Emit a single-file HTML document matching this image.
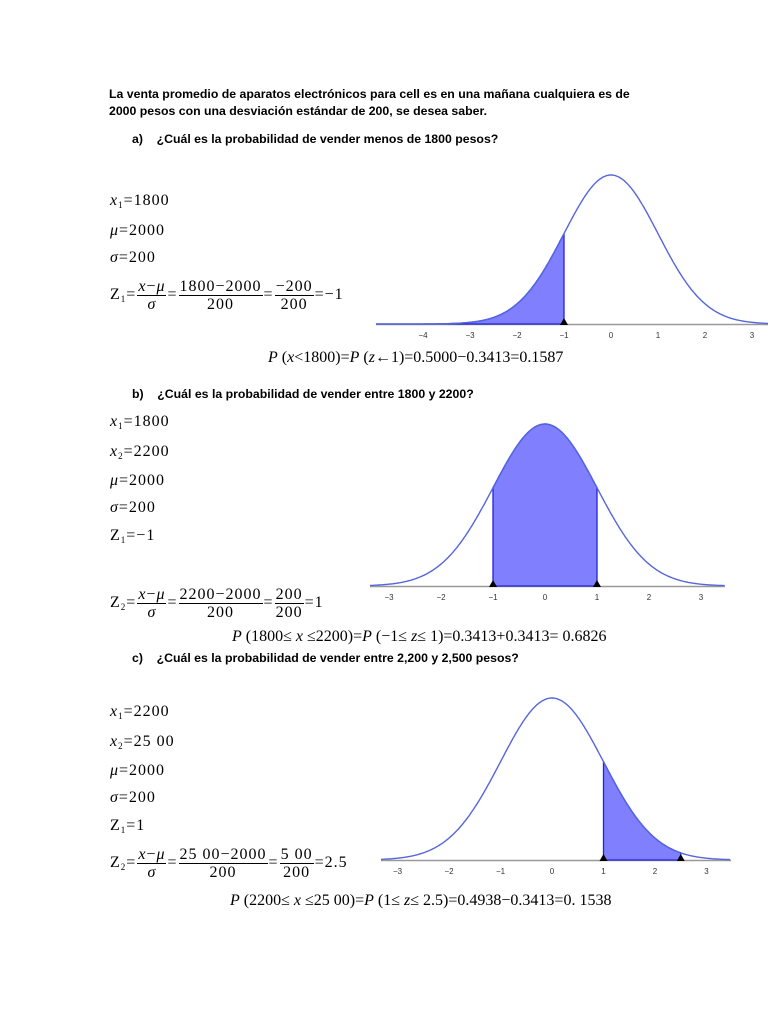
<!DOCTYPE html>
<html><head><meta charset="utf-8">
<style>
body{margin:0;width:768px;height:1024px;background:#fff;position:relative;overflow:hidden;font-family:"Liberation Serif",serif;color:#000}
.h{position:absolute;font-family:"Liberation Sans",sans-serif;font-weight:bold;font-size:12.3px;white-space:nowrap}
.m{position:absolute;font-size:16px;white-space:nowrap;line-height:16px;letter-spacing:1px}
.r{letter-spacing:0}
.m i{font-style:italic}
.f{display:inline-block;vertical-align:middle;text-align:center;line-height:17px;margin:0 1px}
.f span{display:block;padding:0 1px}
.f span+span{border-top:1px solid #000}
sub{font-size:9px;vertical-align:-3px}
#g{position:absolute;left:0;top:0}
</style></head><body>
<div class="h" style="left:109px;top:87px">La venta promedio de aparatos electrónicos para cell es en una mañana cualquiera es de</div>
<div class="h" style="left:109px;top:104px">2000 pesos con una desviación estándar de 200, se desea saber.</div>
<div class="h" style="left:132px;top:132px">a)&nbsp;&nbsp;&nbsp;&nbsp;¿Cuál es la probabilidad de vender menos de 1800 pesos?</div>
<div class="h" style="left:132px;top:387px">b)&nbsp;&nbsp;&nbsp;&nbsp;¿Cuál es la probabilidad de vender entre 1800 y 2200?</div>
<div class="h" style="left:132px;top:651px">c)&nbsp;&nbsp;&nbsp;&nbsp;¿Cuál es la probabilidad de vender entre 2,200 y 2,500 pesos?</div>

<div class="m" style="left:110px;top:193px"><i>x</i><sub>1</sub>=1800</div>
<div class="m" style="left:110px;top:223px"><i>μ</i>=2000</div>
<div class="m" style="left:110px;top:250px"><i>σ</i>=200</div>
<div class="m" style="left:110px;top:278px">Z<sub>1</sub>=<span class="f"><span><i>x</i>−<i>μ</i></span><span><i>σ</i></span></span>=<span class="f"><span>1800−2000</span><span>200</span></span>=<span class="f"><span>−200</span><span>200</span></span>=−1</div>
<div class="m r" style="left:268px;top:350px"><i>P</i> (<i>x</i>&lt;1800)=<i>P</i> (<i>z</i>←1)=0.5000−0.3413=0.1587</div>

<div class="m" style="left:110px;top:414px"><i>x</i><sub>1</sub>=1800</div>
<div class="m" style="left:110px;top:444px"><i>x</i><sub>2</sub>=2200</div>
<div class="m" style="left:110px;top:473px"><i>μ</i>=2000</div>
<div class="m" style="left:110px;top:500px"><i>σ</i>=200</div>
<div class="m" style="left:110px;top:528px">Z<sub>1</sub>=−1</div>
<div class="m" style="left:110px;top:586px">Z<sub>2</sub>=<span class="f"><span><i>x</i>−<i>μ</i></span><span><i>σ</i></span></span>=<span class="f"><span>2200−2000</span><span>200</span></span>=<span class="f"><span>200</span><span>200</span></span>=1</div>
<div class="m r" style="left:232px;top:629px"><i>P</i> (1800≤ <i>x</i> ≤2200)=<i>P</i> (−1≤ <i>z</i>≤ 1)=0.3413+0.3413= 0.6826</div>

<div class="m" style="left:110px;top:704px"><i>x</i><sub>1</sub>=2200</div>
<div class="m" style="left:110px;top:734px"><i>x</i><sub>2</sub>=25 00</div>
<div class="m" style="left:110px;top:763px"><i>μ</i>=2000</div>
<div class="m" style="left:110px;top:790px"><i>σ</i>=200</div>
<div class="m" style="left:110px;top:818px">Z<sub>1</sub>=1</div>
<div class="m" style="left:110px;top:846px">Z<sub>2</sub>=<span class="f"><span><i>x</i>−<i>μ</i></span><span><i>σ</i></span></span>=<span class="f"><span>25 00−2000</span><span>200</span></span>=<span class="f"><span>5 00</span><span>200</span></span>=2.5</div>
<div class="m r" style="left:230px;top:893px"><i>P</i> (2200≤ <i>x</i> ≤25 00)=<i>P</i> (1≤ <i>z</i>≤ 2.5)=0.4938−0.3413=0. 1538</div>

<svg id="g" width="768" height="1024"></svg>
<script>
const chart1Ticks=[-4,-3,-2,-1,0,1,2,3];
const chart1Shade=[-5,-1];
const chart1Markers=[-1];
const chart2Ticks=[-3,-2,-1,0,1,2,3];
const chart2Shade=[-1,1];
const chart2Markers=[-1,1];
const chart3Ticks=[-3,-2,-1,0,1,2,3];
const chart3Shade=[1,2.5];
const chart3Markers=[1,2.5];
const NS="http://www.w3.org/2000/svg";
const svg=document.getElementById('g');
function mk(t,a){const e=document.createElementNS(NS,t);for(const k in a)e.setAttribute(k,a[k]);svg.appendChild(e);return e;}
function pdf(z){return Math.exp(-z*z/2);}
function draw(name,ticks,shade,markers,g){
  const sx=z=>g.x0+z*g.u, sy=v=>g.y0-v*g.h;
  const zmin=(g.xl-g.x0)/g.u, zmax=(g.xr-g.x0)/g.u;
  let d='';
  for(let z=Math.max(shade[0],zmin);z<=shade[1]+1e-9;z+=0.02)d+=(d?'L':'M')+sx(z).toFixed(1)+' '+sy(pdf(z)).toFixed(1);
  d+='L'+sx(shade[1])+' '+sy(pdf(shade[1]))+'L'+sx(shade[1])+' '+g.y0+'L'+sx(Math.max(shade[0],zmin))+' '+g.y0+'Z';
  const ax=mk('line',{x1:g.xl,x2:g.xr,y1:g.y0+0.5,y2:g.y0+0.5,stroke:'#999','stroke-width':1.5});
  
  const sh=mk('path',{d:d,fill:'#8080ff',stroke:'#2222dd','stroke-width':1.3});
  
  let c='';
  for(let z=zmin;z<=zmax;z+=0.02)c+=(c?'L':'M')+sx(z).toFixed(1)+' '+sy(pdf(z)).toFixed(1);
  const cv=mk('path',{d:c,fill:'none',stroke:'#5566dd','stroke-width':1.4});
  
  ticks.forEach(t=>{
    const tx=mk('text',{x:sx(t),y:g.y0+14,'font-size':8,'font-family':'Liberation Sans,sans-serif','text-anchor':'middle',fill:'#333'});
    tx.textContent=(t<0?'−':'')+Math.abs(t);
    
  });
  markers.forEach(m=>{
    const p=mk('path',{d:`M${sx(m)-4} ${g.y0+1}L${sx(m)} ${g.y0-6}L${sx(m)+4} ${g.y0+1}Z`,fill:'#000'});
    
  });
}
draw('chart-a',chart1Ticks,chart1Shade,chart1Markers,{x0:611,u:47,y0:324,h:149,xl:376,xr:768});
draw('chart-b',chart2Ticks,chart2Shade,chart2Markers,{x0:545,u:52,y0:586,h:162,xl:370,xr:725});
draw('chart-c',chart3Ticks,chart3Shade,chart3Markers,{x0:552,u:51.5,y0:860,h:162,xl:381,xr:731});
</script>
</body></html>
